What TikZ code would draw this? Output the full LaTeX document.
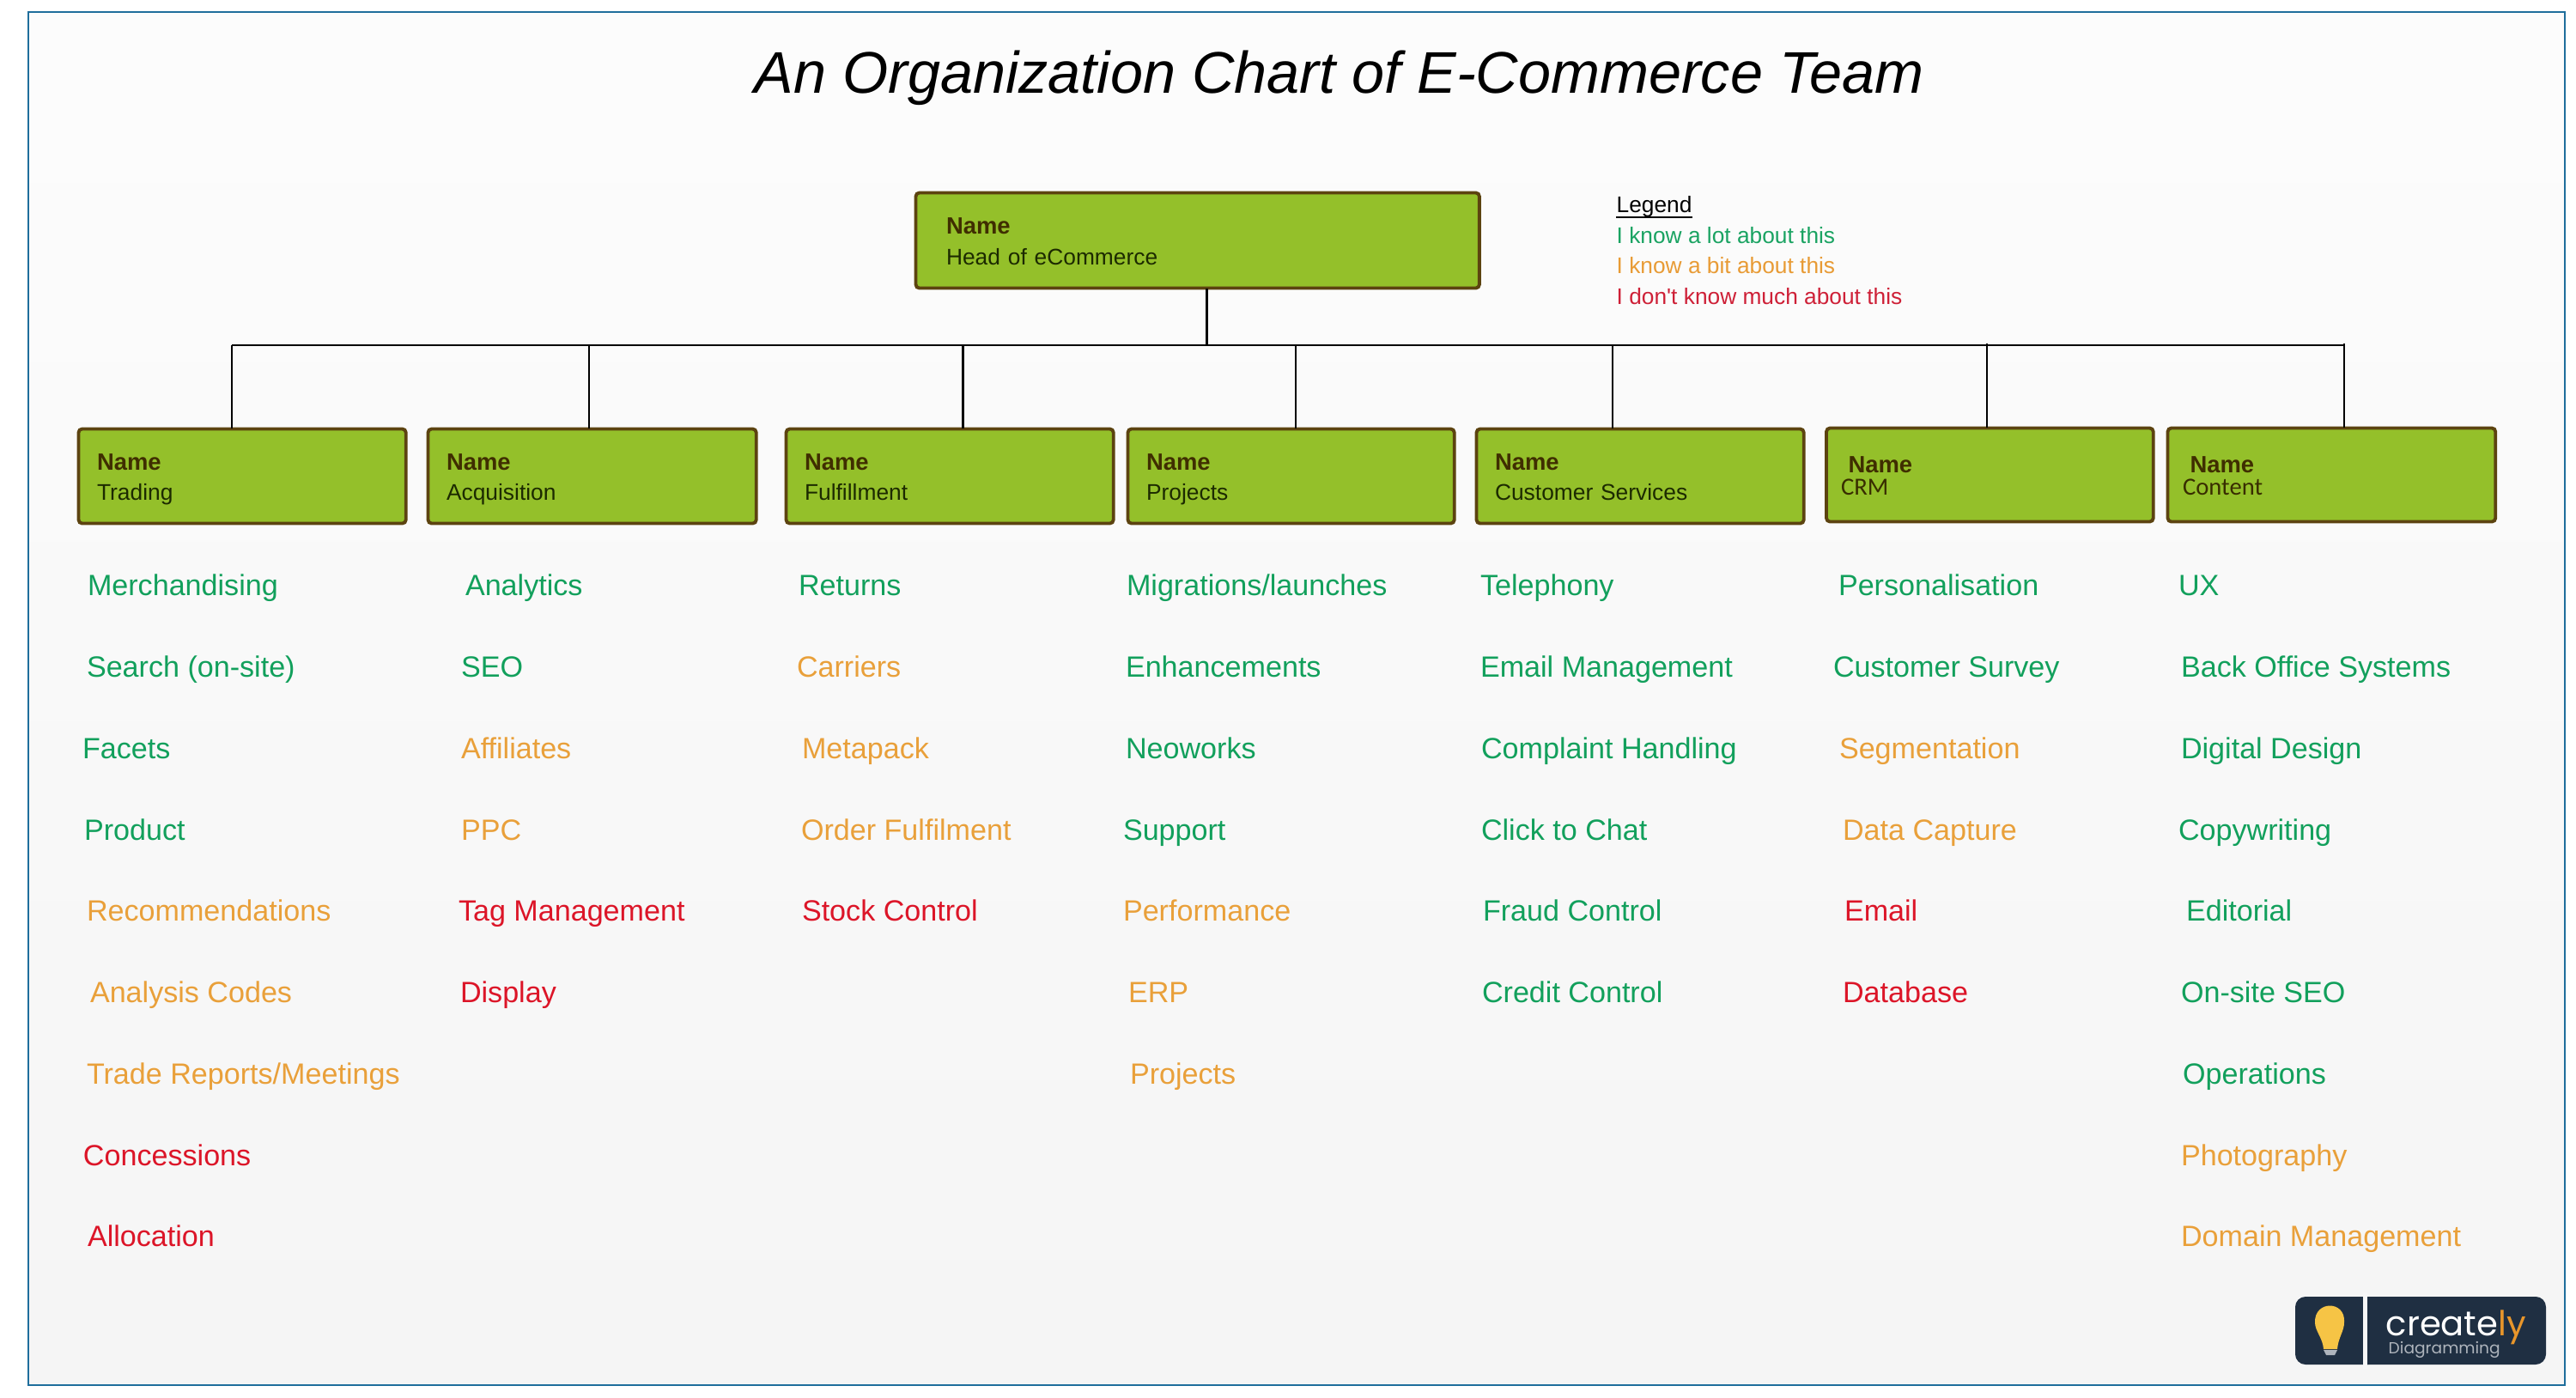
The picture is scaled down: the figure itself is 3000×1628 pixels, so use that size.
\documentclass[tikz,border=0pt]{standalone}
\usepackage{fontspec}
\setmainfont{Liberation Sans}
\newfontfamily\lsans{Liberation Sans}
\newfontfamily\carl{Carlito}
\newfontfamily\pop{Poppins}
\definecolor{framec}{HTML}{1F6E9C}
\definecolor{boxfill}{HTML}{94C02A}
\definecolor{boxline}{HTML}{5C4310}
\definecolor{namec}{HTML}{3F2E00}
\definecolor{rolec}{HTML}{1C2A00}
\definecolor{kgreen}{HTML}{12A05C}
\definecolor{korange}{HTML}{E9A03A}
\definecolor{kred}{HTML}{DC1528}
\definecolor{lgreen}{HTML}{1AA362}
\definecolor{lorange}{HTML}{E89B35}
\definecolor{lred}{HTML}{CE2037}
\definecolor{logoc}{HTML}{1F2F42}
\definecolor{bulbc}{HTML}{F6C445}
\definecolor{logoy}{HTML}{E8962B}
\definecolor{logog}{HTML}{AEB4BC}
\tikzset{
  x=0.01cm,y=-0.01cm,
  orgbox/.style={draw=boxline,fill=boxfill,line width=1.1pt,rounded corners=1.2pt,
    anchor=north west,outer sep=0pt,inner ysep=0pt,inner xsep=#1,align=left,
    font=\fontsize{7.5}{10.2}\selectfont,text=rolec},
  orgbox/.default=0.215cm,
  conn/.style={draw=black,line width=0.6pt},
  itemtxt/.style={anchor=base west,inner sep=0pt,outer sep=0pt,font=\fontsize{9.7}{11}\selectfont},
  kg/.style={itemtxt,text=kgreen},
  ko/.style={itemtxt,text=korange},
  kr/.style={itemtxt,text=kred},
  legtxt/.style={anchor=base west,inner sep=0pt,font=\fontsize{7.48}{9}\selectfont},
}
\newcommand{\nm}[1]{\textcolor{namec}{\fontsize{7.8}{10.2}\selectfont\textbf{#1}}}
\newcommand{\rl}[1]{\rule{0pt}{7pt}\nm{Name}\\\smash{#1}\rule[-1.07pt]{0pt}{1.07pt}}
\newcommand{\rlc}[1]{\rule{0pt}{7pt}\hspace*{0.085cm}\nm{Name}\\[-2.8pt]\smash{\carl\fontsize{8.15}{10}\selectfont\color{namec!80!rolec}#1}\rule[-1.3pt]{0pt}{1.3pt}}
\begin{document}
\begin{tikzpicture}
\useasboundingbox (0,0) rectangle (3000,1628);
\fill[white] (0,0) rectangle (3000,1628);
\shade[top color=white!50!gray!4,bottom color=gray!8,draw=framec,line width=0.75pt] (33,14) rectangle (2987,1613);

\node[anchor=base west,inner sep=0pt,font=\fontsize{19.45}{23}\selectfont\itshape] (title) at (878,109) {An Organization Chart of E-Commerce Team};

% boxes
\node[orgbox=0.355cm,minimum height=1.11cm,text width=5.85cm] (head) at (1066.5,224.5) {\rl{Head of eCommerce}};
\node[orgbox,minimum height=1.10cm,text width=3.38cm] (trading) at (91.5,499.5) {\rl{Trading}};
\node[orgbox,minimum height=1.10cm,text width=3.39cm] (acq) at (498.5,499.5) {\rl{Acquisition}};
\node[orgbox,minimum height=1.10cm,text width=3.38cm] (ful) at (915.5,499.5) {\rl{Fulfillment}};
\node[orgbox,minimum height=1.10cm,text width=3.37cm] (proj) at (1313.5,499.5) {\rl{Projects}};
\node[orgbox,minimum height=1.10cm,text width=3.38cm] (cust) at (1719.5,499.5) {\rl{Customer Services}};
\node[orgbox=0.17cm,minimum height=1.09cm,text width=3.465cm] (crm) at (2127,498.5) {\rlc{CRM}};
\node[orgbox=0.175cm,minimum height=1.09cm,text width=3.465cm] (cont) at (2524.5,498.5) {\rlc{Content}};

% connectors
\coordinate (bh) at (1405.5,402);
\coordinate (b1) at (270,402);
\coordinate (b2) at (686,402);
\coordinate (b3) at (1121.5,402);
\coordinate (b4) at (1509,402);
\coordinate (b5) at (1878,402);
\coordinate (b6) at (2314,402);
\coordinate (b7) at (2730,402);
\draw[conn] (b1) -- (b7);
\draw[conn] (bh) -- (bh |- head.south);
\draw[conn] (b1) -- (b1 |- trading.north);
\draw[conn] (b2) -- (b2 |- acq.north);
\draw[conn] (b3) -- (b3 |- ful.north);
\draw[conn] (b4) -- (b4 |- proj.north);
\draw[conn] (b5) -- (b5 |- cust.north);
\draw[conn] ([yshift=0.02cm]b6) -- (b6 |- crm.north);
\draw[conn] ([yshift=0.02cm]b7) -- (b7 |- cont.north);

% legend
\node[legtxt] (l0) at (1882,247.5) {Legend};
\draw[line width=0.55pt] ([yshift=-0.055cm]l0.base west) -- ([yshift=-0.055cm]l0.base east);
\node[legtxt,text=lgreen] (l1) at (1882,284) {I know a lot about this};
\node[legtxt,text=lorange] (l2) at (1882,319) {I know a bit about this};
\node[legtxt,text=lred] (l3) at (1882,355) {{\lsans I don't know much about this}};

% column 1
\node[kg] (a1) at (102,693) {Merchandising};
\node[kg] (a2) at (101,788) {Search (on-site)};
\node[kg] (a3) at (96,883) {Facets};
\node[kg] (a4) at (98,978) {Product};
\node[ko] (a5) at (101,1072) {Recommendations};
\node[ko] (a6) at (105,1167) {Analysis Codes};
\node[ko] (a7) at (101,1262) {Trade Reports/Meetings};
\node[kr] (a8) at (97,1357) {Concessions};
\node[kr] (a9) at (102,1451) {Allocation};
% column 2
\node[kg] (c1) at (542,693) {Analytics};
\node[kg] (c2) at (537,788) {SEO};
\node[ko] (c3) at (537,883) {Affiliates};
\node[ko] (c4) at (537,978) {PPC};
\node[kr] (c5) at (534,1072) {Tag Management};
\node[kr] (c6) at (536,1167) {Display};
% column 3
\node[kg] (d1) at (930,693) {Returns};
\node[ko] (d2) at (928,788) {Carriers};
\node[ko] (d3) at (934,883) {Metapack};
\node[ko] (d4) at (933,978) {Order Fulfilment};
\node[kr] (d5) at (934,1072) {Stock Control};
% column 4
\node[kg] (e1) at (1312,693) {Migrations/launches};
\node[kg] (e2) at (1311,788) {Enhancements};
\node[kg] (e3) at (1311,883) {Neoworks};
\node[kg] (e4) at (1308,978) {Support};
\node[ko] (e5) at (1308,1072) {Performance};
\node[ko] (e6) at (1314,1167) {ERP};
\node[ko] (e7) at (1316,1262) {Projects};
% column 5
\node[kg] (f1) at (1724,693) {Telephony};
\node[kg] (f2) at (1724,788) {Email Management};
\node[kg] (f3) at (1725,883) {Complaint Handling};
\node[kg] (f4) at (1725,978) {Click to Chat};
\node[kg] (f5) at (1727,1072) {Fraud Control};
\node[kg] (f6) at (1726,1167) {Credit Control};
% column 6
\node[kg] (g1) at (2141,693) {Personalisation};
\node[kg] (g2) at (2135,788) {Customer Survey};
\node[ko] (g3) at (2142,883) {Segmentation};
\node[ko] (g4) at (2146,978) {Data Capture};
\node[kr] (g5) at (2148,1072) {Email};
\node[kr] (g6) at (2146,1167) {Database};
% column 7
\node[kg] (h1) at (2537,693) {UX};
\node[kg] (h2) at (2540,788) {Back Office Systems};
\node[kg] (h3) at (2540,883) {Digital Design};
\node[kg] (h4) at (2537,978) {Copywriting};
\node[kg] (h5) at (2546,1072) {Editorial};
\node[kg] (h6) at (2540,1167) {On-site SEO};
\node[kg] (h7) at (2542,1262) {Operations};
\node[ko] (h8) at (2540,1357) {Photography};
\node[ko] (h9) at (2540,1451) {Domain Management};

% logo
\fill[logoc,rounded corners=3.4pt] (2673,1510) rectangle (2770,1589);
\fill[logoc,rounded corners=3.4pt] (2740,1510) rectangle (2965,1589);
\fill[white!94!gray] (2752,1505) rectangle (2757,1594);
\fill[bulbc] (2696,1540) .. controls (2695,1514) and (2732,1514) .. (2730,1540)
  .. controls (2730,1550) and (2723,1558) .. (2722,1571) -- (2706,1571)
  .. controls (2705,1558) and (2696,1550) .. (2696,1540) -- cycle;
\fill[logog] (2706,1572) -- (2722,1572) -- (2719,1578) .. controls (2716,1578) and (2712,1578) .. (2709,1578) -- cycle;
\node[anchor=base west,inner sep=0pt,font=\pop\fontsize{11.4}{14}\selectfont,text=white] (lg1) at (2778,1555) {create\textcolor{logoy}{ly}};
\node[anchor=base west,inner sep=0pt,font=\pop\fontsize{5.3}{7}\selectfont,text=logog] (lg2) at (2781,1576) {Diagramming};
\end{tikzpicture}
\end{document}
